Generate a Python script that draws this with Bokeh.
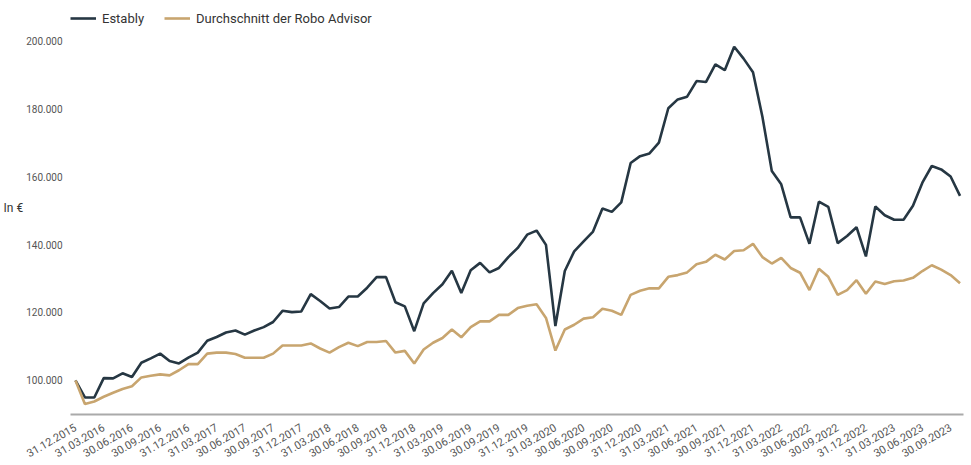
import math
from bokeh.plotting import figure
from bokeh.models import Range1d, FixedTicker, ColumnDataSource
from bokeh.embed import file_html
from bokeh.resources import INLINE

# ---- data (monthly, 31.12.2015 .. 31.10.2023) ----
estably = [
    100000, 95000, 95000, 100700, 100600, 102100, 101000, 105200, 106500, 107900,
    105700, 105000, 106700, 108200, 111700, 112800, 114100, 114700, 113500, 114700,
    115700, 117200, 120500, 120100, 120300, 125400, 123400, 121200, 121600, 124700,
    124700, 127300, 130400, 130400, 123000, 121800, 114500, 122700, 125700, 128300,
    132300, 125700, 132400, 134600, 131800, 133100, 136300, 139000, 142900, 144100,
    139900, 116000, 132200, 138000, 140900, 143800, 150600, 149600, 152400, 164000,
    166000, 166800, 170000, 180100, 182700, 183500, 188100, 187800, 193000, 191300,
    198200, 194700, 190700, 177600, 161600, 157700, 148000, 148000, 140200, 152600,
    151100, 140400, 142500, 145100, 136500, 151200, 148600, 147300, 147300, 151400,
    158200, 163100, 162100, 160000, 154300,
]
robo_avg = [
    100000, 93100, 93800, 95200, 96400, 97500, 98300, 100900, 101400, 101800,
    101500, 103000, 104800, 104800, 107900, 108200, 108200, 107800, 106700, 106700,
    106700, 107900, 110300, 110300, 110300, 110900, 109400, 108200, 109800, 111100,
    110100, 111300, 111300, 111600, 108200, 108700, 105000, 109100, 111100, 112500,
    115000, 112700, 115700, 117400, 117400, 119300, 119300, 121300, 122000, 122400,
    118400, 108800, 115000, 116400, 118200, 118600, 121100, 120500, 119300, 125200,
    126400, 127100, 127100, 130500, 131000, 131800, 134200, 134900, 137000, 135600,
    138100, 138300, 140200, 136300, 134400, 136100, 133100, 131700, 126600, 132900,
    130500, 125200, 126600, 129500, 125500, 129100, 128400, 129200, 129400, 130200,
    132200, 133900, 132600, 131000, 128600,
]
x_tick_labels = [
    "31.12.2015", "31.03.2016", "30.06.2016", "30.09.2016", "31.12.2016",
    "31.03.2017", "30.06.2017", "30.09.2017", "31.12.2017", "31.03.2018",
    "30.06.2018", "30.09.2018", "31.12.2018", "31.03.2019", "30.06.2019",
    "30.09.2019", "31.12.2019", "31.03.2020", "30.06.2020", "30.09.2020",
    "31.12.2020", "31.03.2021", "30.06.2021", "30.09.2021", "31.12.2021",
    "31.03.2022", "30.06.2022", "30.09.2022", "31.12.2022", "31.03.2023",
    "30.06.2023", "30.09.2023",
]
y_tick_values = [100000, 120000, 140000, 160000, 180000, 200000]
y_tick_labels = ["100.000", "120.000", "140.000", "160.000", "180.000", "200.000"]
series_names = ["Estably", "Durchschnitt der Robo Advisor"]
y_title = "In €"

DARK = "#263743"
TAN = "#c8a56f"
FONT = "Roboto"

idx = list(range(len(estably)))
src = ColumnDataSource(dict(x=idx, estably=estably, robo=robo_avg))

p = figure(width=970, height=464, output_backend="svg", toolbar_location=None,
           x_range=Range1d(-0.53, 94.37), y_range=Range1d(89985, 211800),
           min_border_left=70, min_border_right=7, min_border_top=0,
           min_border_bottom=48)
p.outline_line_color = None
p.xgrid.visible = False
p.ygrid.visible = False
p.background_fill_color = "white"

p.line("x", "estably", source=src, line_color=DARK, line_width=2.6,
       legend_label=series_names[0])
p.line("x", "robo", source=src, line_color=TAN, line_width=2.6,
       legend_label=series_names[1])

# x axis
x_ticks = [3 * i for i in range(len(x_tick_labels))]
p.xaxis.ticker = FixedTicker(ticks=x_ticks)
p.xaxis.major_label_overrides = {t: l for t, l in zip(x_ticks, x_tick_labels)}
p.xaxis.major_label_orientation = math.pi / 6
p.xaxis.major_tick_line_color = None
p.xaxis.minor_tick_line_color = None
p.xaxis.axis_line_color = "#aaaaaa"
p.xaxis.axis_line_width = 2
p.xaxis.major_label_text_font = FONT
p.xaxis.major_label_text_font_size = "11px"
p.xaxis.major_label_text_color = "#555555"
p.xaxis.major_label_standoff = 6

# y axis
p.yaxis.ticker = FixedTicker(ticks=y_tick_values)
p.yaxis.major_label_overrides = {v: l for v, l in zip(y_tick_values, y_tick_labels)}
p.yaxis.axis_line_color = None
p.yaxis.major_tick_line_color = None
p.yaxis.minor_tick_line_color = None
p.yaxis.major_label_text_font = FONT
p.yaxis.major_label_text_font_size = "10px"
p.yaxis.major_label_text_color = "#555555"
p.yaxis.major_label_standoff = 2
p.yaxis.axis_label = y_title
p.yaxis.axis_label_text_font = FONT
p.yaxis.axis_label_text_font_size = "12px"
p.yaxis.axis_label_text_font_style = "normal"
p.yaxis.axis_label_text_color = "#333333"
p.yaxis.axis_label_standoff = 0
try:
    p.yaxis.axis_label_orientation = "horizontal"
except Exception:
    pass

lg = p.legend[0]
lg.orientation = "horizontal"
lg.location = (0, 386)
lg.padding = 0
lg.margin = 0
lg.spacing = 20
lg.glyph_width = 26
lg.label_standoff = 6
lg.border_line_color = None
lg.background_fill_alpha = 0
lg.label_text_font = FONT
lg.label_text_font_size = "13px"
lg.label_text_color = "#333333"

open("out.html", "w").write(file_html(p, INLINE))
